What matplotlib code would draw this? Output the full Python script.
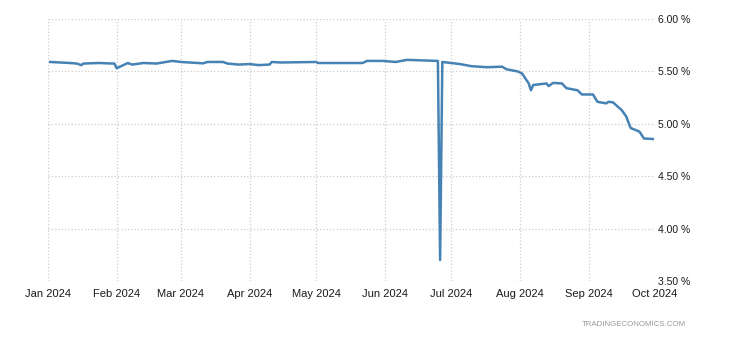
import matplotlib
matplotlib.use("Agg")
import matplotlib.pyplot as plt
import matplotlib.dates as mdates
import pandas as pd

dates = ["2024-01-02", "2024-01-11", "2024-01-14", "2024-01-16", "2024-01-17",
         "2024-01-24", "2024-01-30", "2024-01-31", "2024-02-01", "2024-02-06",
         "2024-02-08", "2024-02-13", "2024-02-19", "2024-02-26", "2024-03-01",
         "2024-03-11", "2024-03-13", "2024-03-20", "2024-03-22", "2024-03-27",
         "2024-04-01", "2024-04-05", "2024-04-10", "2024-04-11", "2024-04-15",
         "2024-05-01", "2024-05-02", "2024-05-22", "2024-05-24", "2024-05-31",
         "2024-06-06", "2024-06-11", "2024-06-25", "2024-06-26", "2024-06-27",
         "2024-07-01", "2024-07-05", "2024-07-10", "2024-07-17", "2024-07-24",
         "2024-07-26", "2024-07-31", "2024-08-02", "2024-08-05", "2024-08-06",
         "2024-08-07", "2024-08-13", "2024-08-14", "2024-08-16", "2024-08-20",
         "2024-08-22", "2024-08-27", "2024-08-29", "2024-09-03", "2024-09-05",
         "2024-09-09", "2024-09-10", "2024-09-12", "2024-09-16", "2024-09-18",
         "2024-09-20", "2024-09-24", "2024-09-26", "2024-09-30"]
rates = [5.59, 5.58, 5.575, 5.56, 5.575,
         5.58, 5.575, 5.575, 5.53, 5.58,
         5.565, 5.58, 5.575, 5.60, 5.59,
         5.577, 5.59, 5.59, 5.575, 5.565,
         5.57, 5.56, 5.565, 5.59, 5.585,
         5.59, 5.58, 5.58, 5.60, 5.60,
         5.59, 5.61, 5.60, 3.70, 5.59,
         5.58, 5.57, 5.55, 5.54, 5.545,
         5.52, 5.50, 5.48, 5.385, 5.32,
         5.37, 5.385, 5.36, 5.39, 5.385,
         5.34, 5.32, 5.28, 5.28, 5.21,
         5.195, 5.21, 5.205, 5.13, 5.07,
         4.96, 4.925, 4.86, 4.855]

yticks = [3.5, 4.0, 4.5, 5.0, 5.5, 6.0]
months = pd.date_range("2024-01-01", "2024-10-01", freq="MS")

plt.rcParams['font.family'] = ['Liberation Sans', 'DejaVu Sans']

fig = plt.figure(figsize=(7.3, 3.4), dpi=100)
ax = fig.add_axes([48 / 730, 1 - 281 / 340, 607 / 730, 262 / 340])

ax.plot(pd.to_datetime(dates), rates, color='#4682b4', linewidth=1.8)

ax.set_xlim(months[0], months[-1])
ax.set_ylim(3.5, 6.0)
ax.set_xticks(months)
ax.xaxis.set_major_formatter(mdates.DateFormatter('%b %Y'))
ax.set_yticks(yticks)
ax.set_yticklabels([f"{v:.2f} %" for v in yticks])
ax.yaxis.tick_right()
ax.tick_params(axis='both', length=0, labelsize=7.5, colors='#1a1a1a')
ax.tick_params(axis='x', pad=6, labelsize=8)
ax.tick_params(axis='y', pad=2)
ax.grid(True, color='#cccccc', linestyle=':', linewidth=0.9)
for s in ax.spines.values():
    s.set_visible(False)
ax.set_axisbelow(True)

fig.text(686 / 730, 1 - 325 / 340, "TRADINGECONOMICS.COM", ha='right', va='center',
         fontsize=5.7, color='#999999')

fig.savefig("out.png", dpi=100)
